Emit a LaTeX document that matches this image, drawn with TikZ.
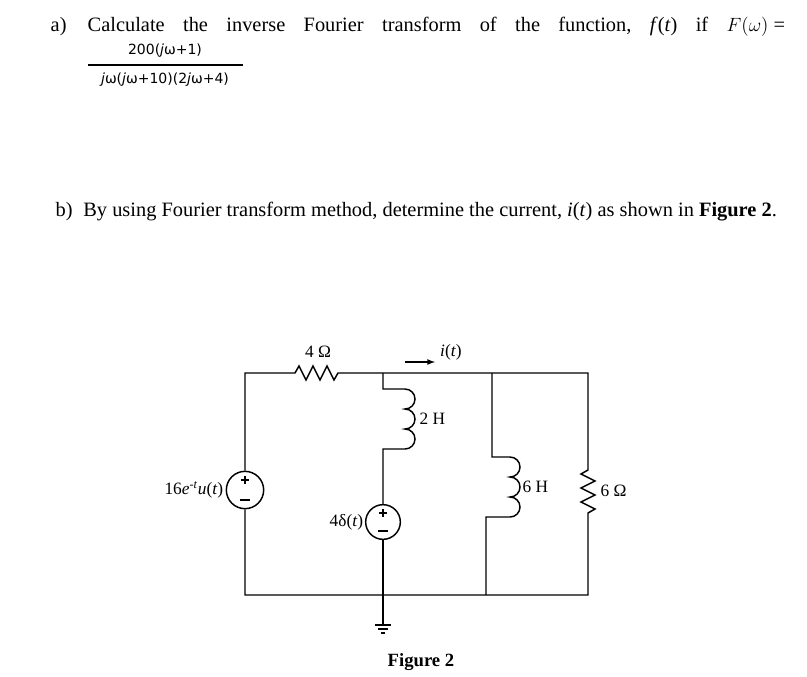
\documentclass[tikz,border=0pt]{standalone}
\usepackage{fontspec}
\setmainfont{Liberation Serif}
\newfontfamily\dvs{DejaVu Sans}
\begin{document}
\begin{tikzpicture}[x=0.75pt,y=-0.75pt,line width=1.1pt,
  lbl/.style={inner sep=0pt,font=\fontsize{13}{15}\selectfont},
  txt/.style={inner sep=0pt,anchor=west,font=\fontsize{15.3}{17}\selectfont},
  src/.style={circle,draw,minimum size=28pt,inner sep=0pt},
  pm/.style={line width=0.9pt}]
\useasboundingbox (0,0) rectangle (807,676);
% text
\node[txt] (qa) at (50,27) {a)};
\node[txt] (la) at (87,27) {\hbox to 523pt{Calculate\hfill the\hfill inverse\hfill Fourier\hfill transform\hfill of\hfill the\hfill function,\hfill \textit{f}(\textit{t})\hfill if\hfill $F(\omega)$ =}};
\node[inner sep=0pt,font=\dvs\fontsize{10.5}{12}\selectfont] (num) at (165,51) {200(\textit{j}ω+1)};
\draw[line width=0.8pt] (88,65) -- (243,65);
\node[inner sep=0pt,font=\dvs\fontsize{10.5}{12}\selectfont] (den) at (165,80) {\textit{j}ω(\textit{j}ω+10)(2\textit{j}ω+4)};
\node[txt] (qb) at (55,212) {b)\hspace{8pt}By using Fourier transform method, determine the current, \textit{i}(\textit{t}) as shown in \textbf{Figure 2}.};
\node[lbl,font=\bfseries\fontsize{14}{16}\selectfont] (fig) at (421,662) {Figure 2};
% sources
\node[src,minimum size=28pt] (vs) at (245,490) {};
\draw[pm] (245,476) -- (245,484) (241,480) -- (249,480);
\draw[pm] (240,500) -- (250,500);
\node[src,minimum size=26pt] (vd) at (383,522) {};
\draw[pm] (383,509) -- (383,517) (379,513) -- (387,513);
\draw[pm] (378,531) -- (388,531);
\node[lbl,anchor=east] (lvs) at (224,490) {16\textit{e}\textsuperscript{-\textit{t}}\textit{u}(\textit{t})};
\node[lbl,anchor=east] (lvd) at (364,522) {4δ(\textit{t})};
% coordinates
\coordinate (tl) at (245,373);
\coordinate (bl) at (245,595);
\coordinate (n1) at (383,373);
\coordinate (n2) at (492,373);
\coordinate (tr) at (588,373);
\coordinate (br) at (588,595);
\coordinate (g) at (383,595);
% left loop and top wire
\draw (vs.north) -- (tl) -- (295,373) -- (299,366) -- (306,380) -- (313,366) -- (320,380) -- (327,366) -- (334,380) -- (338,373) -- (n1) -- (n2) -- (tr) -- (588,470)
  -- (581,474) -- (595,481) -- (581,488) -- (595,495) -- (581,502) -- (595,509) -- (588,513) -- (br) -- (bl) -- (vs.south);
\node[lbl] (l4) at (318,352) {4 Ω};
\node[lbl,anchor=west] (l6r) at (600,491) {6 Ω};
% 2H
\draw (n1) -- (383,389) -- (405,389) arc[start angle=-90,end angle=90,radius=10]
  arc[start angle=-90,end angle=90,radius=10] arc[start angle=-90,end angle=90,radius=10] -- (383,449) -- (vd.north);
\draw (vd.south) -- (g) -- (383,625);
\node[lbl,anchor=west] (l2) at (419,419) {2 H};
% 6H
\draw (n2) -- (492,457) -- (510,457) arc[start angle=-90,end angle=90,radius=10]
  arc[start angle=-90,end angle=90,radius=10] arc[start angle=-90,end angle=90,radius=10] -- (486,517) -- (486,595);
\node[lbl,anchor=west] (l6) at (522,487) {6 H};
% ground
\draw (375,625) -- (391,625);
\draw (378,629) -- (388,629);
\draw (381,633) -- (385,633);
% current
\draw[-latex,line width=1pt] (405,362) -- (435,362);
\node[lbl] (li) at (451,352) {\textit{i}(\textit{t})};
\end{tikzpicture}
\end{document}
